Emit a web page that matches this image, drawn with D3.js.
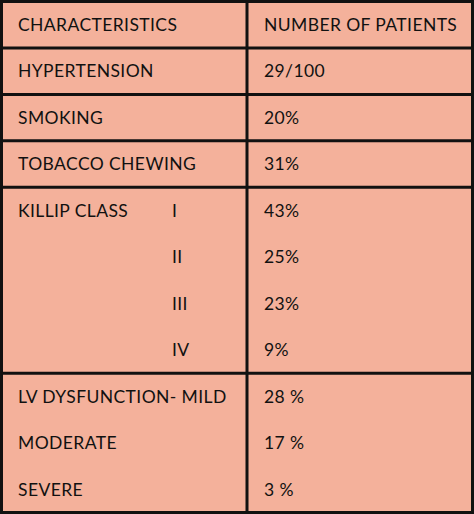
<!DOCTYPE html><html><head><meta charset="utf-8"><script src="https://cdn.jsdelivr.net/npm/d3@7"></script>
<style>body{margin:0;background:#fff}</style></head><body><svg id="c" width="474" height="514"></svg>
<script>
const headers=["CHARACTERISTICS","NUMBER OF PATIENTS"];
const labels=["HYPERTENSION","SMOKING","TOBACCO CHEWING","KILLIP CLASS","","","","LV DYSFUNCTION- MILD","MODERATE","SEVERE"];
const subLabels=["","","","I","II","III","IV","","",""];
const values=["29/100","20%","31%","43%","25%","23%","9%","28 %","17 %","3 %"];
const groupBreaks=[1,2,3,4,8];
const svg=d3.select("#c");
const nRows=values.length+1;
const y=d3.scaleLinear().domain([0,nRows]).range([1.5,512.5]);
const x0=1.5,x1=247,x2=472.5;
svg.append("rect").attr("x",x0).attr("y",y(0)).attr("width",x2-x0).attr("height",y(nRows)-y(0)).attr("fill","#f4b19b").attr("stroke","#111").attr("stroke-width",3);
svg.append("line").attr("x1",x1).attr("x2",x1).attr("y1",y(0)).attr("y2",y(nRows)).attr("stroke","#111").attr("stroke-width",3);
groupBreaks.forEach(b=>svg.append("line").attr("x1",x0).attr("x2",x2).attr("y1",y(b)).attr("y2",y(b)).attr("stroke","#111").attr("stroke-width",3));
const font="Lato, 'Open Sans', sans-serif";
function txt(xp,row,s){svg.append("text").attr("x",xp).attr("y",(y(row)+y(row+1))/2).attr("dy","0.36em").attr("font-family",font).attr("font-size",17.5).attr("letter-spacing",0.4).attr("fill","#111").text(s);}
txt(18,0,headers[0]);txt(264,0,headers[1]);
values.forEach((v,i)=>{txt(18,i+1,labels[i]);txt(172,i+1,subLabels[i]);txt(264,i+1,v);});
</script></body></html>
